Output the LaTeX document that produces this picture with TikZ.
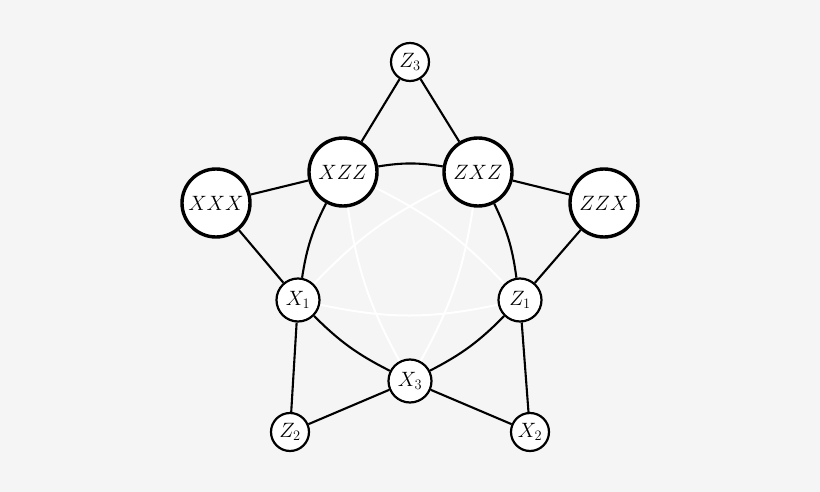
\documentclass[tikz,border=0pt]{standalone}
\usetikzlibrary{backgrounds}
\begin{document}
\begin{tikzpicture}[x=1pt,y=-1pt,
  big/.style={circle,draw,fill=white,line width=3.4pt,minimum size=68pt,inner sep=0pt,font=\fontsize{22}{26}\selectfont},
  small/.style={circle,draw,fill=white,line width=2.2pt,minimum size=43pt,inner sep=0pt,font=\fontsize{22}{26}\selectfont},
  tiny/.style={small,minimum size=38pt},
  edge/.style={line width=2.1pt},
  wedge/.style={white,line width=2pt}]
\node[tiny] (z3) at (410,62) {$Z_3$};
\node[big] (xzz) at (343,172) {$XZZ$};
\node[big] (zxz) at (478,172) {$ZXZ$};
\node[big] (xxx) at (216,203) {$XXX$};
\node[big] (zzx) at (604,203) {$ZZX$};
\node[small] (x1) at (298,300) {$X_1$};
\node[small] (z1) at (520,300) {$Z_1$};
\node[small] (x3) at (410,381) {$X_3$};
\node[tiny] (z2) at (290,432) {$Z_2$};
\node[tiny] (x2) at (530,432) {$X_2$};
\begin{scope}[on background layer]
\fill[black!4] (0,0) rectangle (820,492);
\draw[wedge] (xzz) to[bend right=10] (x3);
\draw[wedge] (xzz) to[bend left=10] (z1);
\draw[wedge] (zxz) to[bend right=10] (x1);
\draw[wedge] (zxz) to[bend left=10] (x3);
\draw[wedge] (x1) to[bend right=12] (z1);
\draw[edge] (z3) -- (xzz);
\draw[edge] (z3) -- (zxz);
\draw[edge] (xxx) -- (xzz);
\draw[edge] (zxz) -- (zzx);
\draw[edge] (xxx) -- (x1);
\draw[edge] (zzx) -- (z1);
\draw[edge] (x1) -- (z2);
\draw[edge] (z1) -- (x2);
\draw[edge] (z2) -- (x3);
\draw[edge] (x2) -- (x3);
\draw[edge] (xzz) to[bend left=9] (zxz);
\draw[edge] (zxz) to[bend left=9] (z1);
\draw[edge] (z1) to[bend left=9] (x3);
\draw[edge] (x3) to[bend left=9] (x1);
\draw[edge] (x1) to[bend left=9] (xzz);
\end{scope}
\end{tikzpicture}
\end{document}
